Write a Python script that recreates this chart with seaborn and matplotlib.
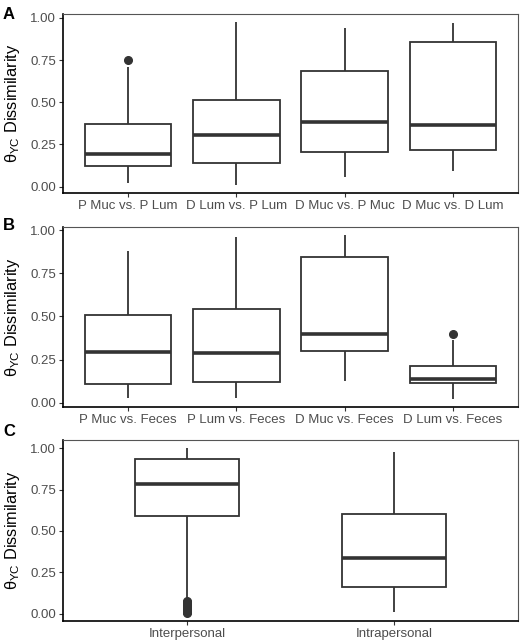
import numpy as np
import pandas as pd
import seaborn as sns
import matplotlib.pyplot as plt

# ---- data (box statistics) ----
a_cats = ["P Muc vs. P Lum", "D Lum vs. P Lum", "D Muc vs. P Muc", "D Muc vs. D Lum"]
a_wlo = [0.02, 0.01, 0.055, 0.09]
a_q1 = [0.122, 0.14, 0.203, 0.219]
a_med = [0.195, 0.305, 0.384, 0.366]
a_q3 = [0.37, 0.512, 0.687, 0.856]
a_whi = [0.709, 0.975, 0.94, 0.969]
a_out = [[0.752], [], [], []]

b_cats = ["P Muc vs. Feces", "P Lum vs. Feces", "D Muc vs. Feces", "D Lum vs. Feces"]
b_wlo = [0.029, 0.029, 0.125, 0.023]
b_q1 = [0.108, 0.118, 0.302, 0.112]
b_med = [0.293, 0.287, 0.397, 0.135]
b_q3 = [0.511, 0.541, 0.844, 0.216]
b_whi = [0.881, 0.958, 0.971, 0.366]
b_out = [[], [], [], [0.401]]

c_cats = ["Interpersonal", "Intrapersonal"]
c_wlo = [0.09, 0.01]
c_q1 = [0.593, 0.160]
c_med = [0.782, 0.335]
c_q3 = [0.935, 0.604]
c_whi = [1.0, 0.98]
c_out = [[0.005, 0.01, 0.015, 0.02, 0.025, 0.03, 0.035, 0.04, 0.045, 0.05,
          0.055, 0.06, 0.065, 0.07, 0.075, 0.08], []]


def sample(lo, q1, med, q3, hi, outs):
    """Build a small sample whose Tukey box statistics equal the read values."""
    low = sorted([lo] + [o for o in outs if o < q1])
    high = sorted([hi] + [o for o in outs if o > q3])
    m = max(len(low), len(high), 1)
    low = low + [q1] * (m - len(low))
    high = [q3] * (m - len(high)) + high
    mid = [q1] + [med] * (2 * m - 1) + [q3]
    return low + mid + high


def frame(cats, wlo, q1, med, q3, whi, outs):
    rows = []
    for i, c in enumerate(cats):
        for v in sample(wlo[i], q1[i], med[i], q3[i], whi[i], outs[i]):
            rows.append((c, v))
    return pd.DataFrame(rows, columns=["group", "value"])


sns.set_theme(style="white")
plt.rcParams["font.family"] = ["Liberation Sans", "DejaVu Sans"]
plt.rcParams["mathtext.fontset"] = "custom"
plt.rcParams["mathtext.rm"] = "Liberation Sans"
plt.rcParams["mathtext.it"] = "Liberation Sans:italic"

W, H = 520, 640
fig = plt.figure(figsize=(W / 100, H / 100), dpi=100)

panels = [
    ("A", frame(a_cats, a_wlo, a_q1, a_med, a_q3, a_whi, a_out), a_cats, 14, 193, 0.8, 7),
    ("B", frame(b_cats, b_wlo, b_q1, b_med, b_q3, b_whi, b_out), b_cats, 227, 407, 0.8, 218),
    ("C", frame(c_cats, c_wlo, c_q1, c_med, c_q3, c_whi, c_out), c_cats, 440, 621, 0.5, 424),
]

edge = "#333333"
for letter, df, cats, top, bot, width, ly in panels:
    left, right = 63, 518
    ax = fig.add_axes([left / W, 1 - bot / H, (right - left) / W, (bot - top) / H])
    sns.boxplot(data=df, x="group", y="value", order=cats, ax=ax, width=width,
                color="white", linecolor=edge, linewidth=1.3, showcaps=False,
                medianprops={"linewidth": 2.6, "color": edge},
                flierprops={"marker": "o", "markerfacecolor": edge,
                            "markeredgecolor": edge, "markersize": 5.5})
    n = len(cats)
    ax.set_xlim(-0.6, n - 1 + 0.6)
    vmin, vmax = df["value"].min(), df["value"].max()
    rng = vmax - vmin
    ax.set_ylim(vmin - 0.05 * rng, vmax + 0.05 * rng)
    ax.set_yticks([0, 0.25, 0.5, 0.75, 1.0])
    ax.set_yticklabels(["0.00", "0.25", "0.50", "0.75", "1.00"])
    ax.set_xlabel("")
    ax.set_ylabel(r"$\mathrm{\theta_{YC}}$ Dissimilarity", fontsize=11.8, color="black")
    ax.yaxis.set_label_coords(-0.090, 0.5)
    ax.tick_params(axis="both", which="both", length=3, width=0.8, color=edge,
                   labelcolor="#4d4d4d", labelsize=9.5, pad=2, direction="out",
                   bottom=True, left=True)
    for s in ["left", "bottom"]:
        ax.spines[s].set_color("black")
        ax.spines[s].set_linewidth(1.2)
    for s in ["top", "right"]:
        ax.spines[s].set_color("#555555")
        ax.spines[s].set_linewidth(0.8)
    fig.text(3 / W, 1 - ly / H, letter, fontsize=12, fontweight="bold",
             va="top", ha="left", color="black")

fig.savefig("out.png", dpi=100)
